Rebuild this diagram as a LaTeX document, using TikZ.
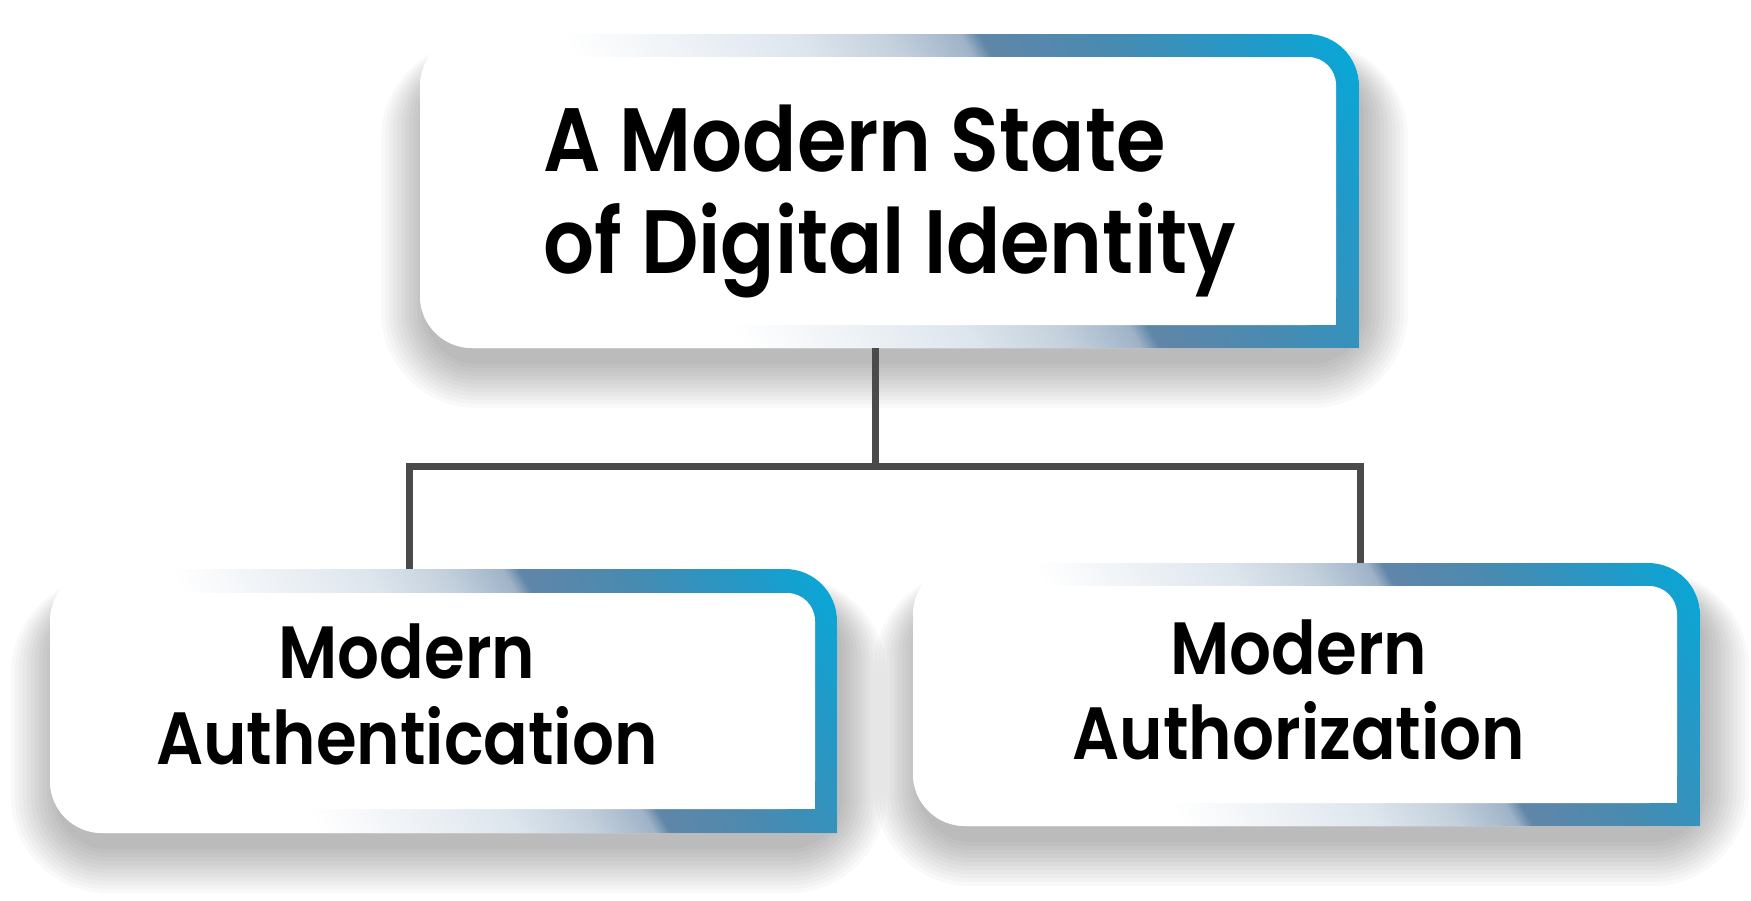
\documentclass[tikz,border=0pt]{standalone}
\usepackage{fontspec}
\newfontfamily\popfont{Poppins SemiBold}[FakeStretch=0.89]
\usetikzlibrary{fit}
\definecolor{gB}{HTML}{DDE5ED}
\definecolor{gC}{HTML}{C3D0DC}
\definecolor{gD}{HTML}{9FB3C8}
\definecolor{gE}{HTML}{6086A8}
\definecolor{gF}{HTML}{4A8AB0}
\definecolor{gG}{HTML}{2299C8}
\definecolor{gH}{HTML}{03AAD9}
\definecolor{connc}{HTML}{4A4A4A}
\newcommand\mkgrad[3]{%
  \pgfmathsetmacro\gW{0.866*#2}%
  \pgfmathsetmacro\gO{0.5*#3+10}%
  \pgfmathsetmacro\gLen{0.866*#2+0.5*#3+20}%
  \pgfmathsetmacro\gHt{0.5*#2+0.866*#3+20}%
  \pgfmathsetmacro\pA{\gO+0.15*\gW}%
  \pgfmathsetmacro\pB{\gO+0.40*\gW}%
  \pgfmathsetmacro\pC{\gO+0.50*\gW}%
  \pgfmathsetmacro\pD{\gO+0.575*\gW}%
  \pgfmathsetmacro\pE{\gO+0.595*\gW}%
  \pgfmathsetmacro\pF{\gO+0.72*\gW}%
  \pgfmathsetmacro\pG{\gO+0.88*\gW}%
  \pgfmathsetmacro\pH{\gO+1.0*\gW}%
  \edef\gtmp{\noexpand\pgfdeclarehorizontalshading{#1}{\gHt pt}{%
    color(0pt)=(white); color(\pA pt)=(white); color(\pB pt)=(gB);
    color(\pC pt)=(gC); color(\pD pt)=(gD); color(\pE pt)=(gE);
    color(\pF pt)=(gF); color(\pG pt)=(gG); color(\pH pt)=(gH);
    color(\gLen pt)=(gH)}}%
  \gtmp}
\mkgrad{gradtop}{939}{314}
\mkgrad{gradbot}{787}{264}
\tikzset{
  shadowlayer/.style={fill=black, fill opacity=0.023},
  conn/.style={draw=connc, line width=7pt, line join=miter, line cap=butt},
  toptext/.style={inner sep=0pt, anchor=base west, font=\popfont\fontsize{90}{100}\selectfont},
  bottext/.style={inner sep=0pt, anchor=base, font=\popfont\fontsize{74}{86}\selectfont},
}
% #1 shading, #2 L, #3 T, #4 R, #5 B, #6 inner T, #7 inner R, #8 inner B, #9 name
\newcommand\gradbox[9]{%
  \foreach \k in {0,4,...,44} {
    \path[shadowlayer, rounded corners={(52+\k)*1pt}]
      ({#2+5-\k},{#3+30-0.5*\k}) rectangle ({#4+5+\k},{#5+16+\k});
  }
  \fill[white] [rounded corners=52pt] (#2,#3) rectangle (#4,#5)
     [sharp corners] (#4-60,#5-60) rectangle (#4,#5);
  \begin{scope}
    \clip [rounded corners=52pt] (#2,#3) rectangle (#4,#5)
     [sharp corners] (#4-60,#5-60) rectangle (#4,#5);
    \node[inner sep=0pt, outer sep=0pt, rotate=30] at ({(#2+#4)/2},{(#3+#5)/2}) {\pgfuseshading{#1}};
  \end{scope}
  \fill[white, rounded corners=28pt] (#2+52,#6) rectangle (#7,#8);
  \fill[white] (#7-40,#8-40) rectangle (#7,#8);
  \node[inner sep=0pt, outer sep=0pt, fit={(#2,#3) (#4,#5)}] (#9) {};
}
\begin{document}
\begin{tikzpicture}[x=1pt,y=-1pt]
\useasboundingbox[fill=white] (0,0) rectangle (1751,900);
\gradbox{gradtop}{420}{34}{1359}{348}{57}{1336}{325}{topbox}
\gradbox{gradbot}{50}{569}{837}{833}{593}{815}{809}{leftbox}
\gradbox{gradbot}{913}{563}{1700}{826}{586}{1677}{803}{rightbox}
% texts
\node[toptext] (t1) at (543,171) {A Modern State};
\node[toptext] (t2) at (543,273) {of Digital Identity};
\node[bottext] (l1) at (407,678) {Modern};
\node[bottext] (l2) at (407,764) {Authentication};
\node[bottext] (r1) at (1299,674) {Modern};
\node[bottext] (r2) at (1299,759) {Authorization};
% connectors
\coordinate (jm) at (875,466);
\coordinate (jl) at (409,466);
\coordinate (jr) at (1360,466);
\draw[conn] (jm |- topbox.south) -- (jm);
\draw[conn] (jl |- leftbox.north) -- (jl) -- (jr) -- (jr |- rightbox.north);
\end{tikzpicture}
\end{document}
